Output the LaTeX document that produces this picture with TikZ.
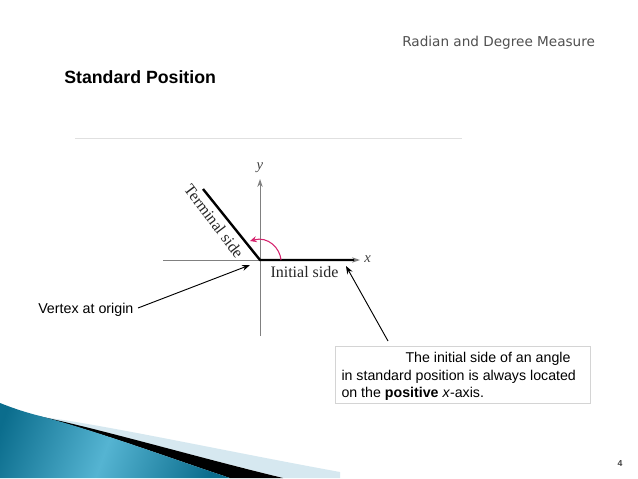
\documentclass[tikz,border=0pt]{standalone}
\usepackage{fontspec}
\setmainfont{Liberation Sans}
\newfontfamily\serifpart{Liberation Serif}
\newfontfamily\headpart{DejaVu Sans}
\definecolor{tealdark}{HTML}{0B6D8D}
\definecolor{teallight}{HTML}{55B4D2}
\definecolor{palewash}{HTML}{D6E8F0}
\definecolor{pinkarc}{HTML}{D6246E}
\definecolor{axisgray}{HTML}{808080}
\definecolor{headgray}{HTML}{505050}
\definecolor{boxline}{HTML}{D4D4D4}
\usetikzlibrary{arrows.meta}
\tikzset{
  px/.style={x=0.75pt,y=-0.75pt},
  axisline/.style={draw=axisgray,line width=0.75pt},
  sideline/.style={draw=black,line width=1.8pt},
  pointer/.style={draw=black,line width=0.7pt,-{Stealth[length=6pt,width=4.5pt]}},
  bodytext/.style={font=\fontsize{10.7pt}{13pt}\selectfont,text=black,inner sep=0pt},
  booktext/.style={font=\serifpart\fontsize{12pt}{14pt}\selectfont,text=black!85,inner sep=0pt},
  axislabel/.style={font=\serifpart\itshape\fontsize{11pt}{12pt}\selectfont,text=black!75,inner sep=0pt},
}
\begin{document}
\begin{tikzpicture}[px]
\useasboundingbox (0,0) rectangle (638,478);
\fill[white] (0,0) rectangle (638,478);
% footer swoosh
\fill[palewash] (43,417) .. controls (110,426) and (230,452) .. (340,472) -- (340,478) -- (283,478) -- cycle;
\fill[black] (38,416) .. controls (100,429) and (200,458) .. (283,478) -- (230,478) .. controls (170,458) and (100,432) .. (38,416) -- cycle;
\begin{scope}
\clip (0,403) .. controls (15,409) and (28,413) .. (40,416) .. controls (100,432) and (170,458) .. (230,478) -- (0,478) -- cycle;
\shade[left color=tealdark,right color=tealdark,middle color=teallight,shading angle=70] (-20,395) rectangle (240,480);
\end{scope}
% header texts
\node[font=\headpart\fontsize{10.2pt}{12pt}\selectfont,text=headgray,anchor=west,inner sep=0pt] (head) at (402,42.5) {Radian and Degree Measure};
\node[font=\bfseries\fontsize{13.3pt}{15pt}\selectfont,anchor=west,inner sep=0pt] (title) at (64,77.5) {Standard Position};
\draw[draw=black!12,line width=0.5pt] (75,138) -- (462,138);
% axes
\coordinate (origin) at (260,260);
\coordinate (xleft) at (163,260);
\coordinate (xright) at (360,260);
\coordinate (ytop) at (260,179);
\coordinate (ybottom) at (260,336);
\coordinate (termend) at (203,189);
\draw[axisline] (xleft) -- (origin);
\draw[axisline,-{Stealth[length=6pt,width=4pt]}] (ybottom) -- (ytop);
\draw[axisline,-{Stealth[length=6pt,width=4pt]}] (origin) -- (xright);
\draw[sideline] (termend) -- (origin) -- (354,260);
\draw[draw=pinkarc,line width=0.8pt,-{Stealth[length=5pt,width=4.5pt]}] (281,260) .. controls (280,248) and (268,236) .. (250,241);
\node[axislabel] (xlab) at (367.5,259.5) {x};
\node[axislabel] (ylab) at (260,168) {y};
\node[booktext] (init) at (304.5,272.5) {Initial side};
\node[booktext,rotate=-53] (term) at (214,221) {Terminal side};
% labels and pointers
\node[bodytext,anchor=west] (vertex) at (38,310) {Vertex at origin};
\coordinate (vstart) at (138,308);
\coordinate (vtip) at (250,265);
\coordinate (itip) at (346,266);
\draw[pointer] (vstart) -- (vtip);
\node[draw=boxline,line width=0.75pt,fill=white,anchor=north west,inner sep=0pt] (note) at (335,345.5) {%
  \begin{minipage}[t][43pt][t]{191pt}\fontsize{10.65pt}{13pt}\selectfont\vspace{5pt}%
  \hspace*{4.5pt}\hspace*{48pt}The initial side of an angle\\
  \hspace*{4.5pt}in standard position is always located\\
  \hspace*{4.5pt}on the \textbf{positive} \textit{x}-axis.\end{minipage}};
\coordinate (nstart) at (388,341);
\draw[pointer] (nstart) -- (itip);
\node[font=\fontsize{6.5pt}{8pt}\selectfont\bfseries,text=black!75,inner sep=0pt] (page) at (620,464) {4};
\end{tikzpicture}
\end{document}
